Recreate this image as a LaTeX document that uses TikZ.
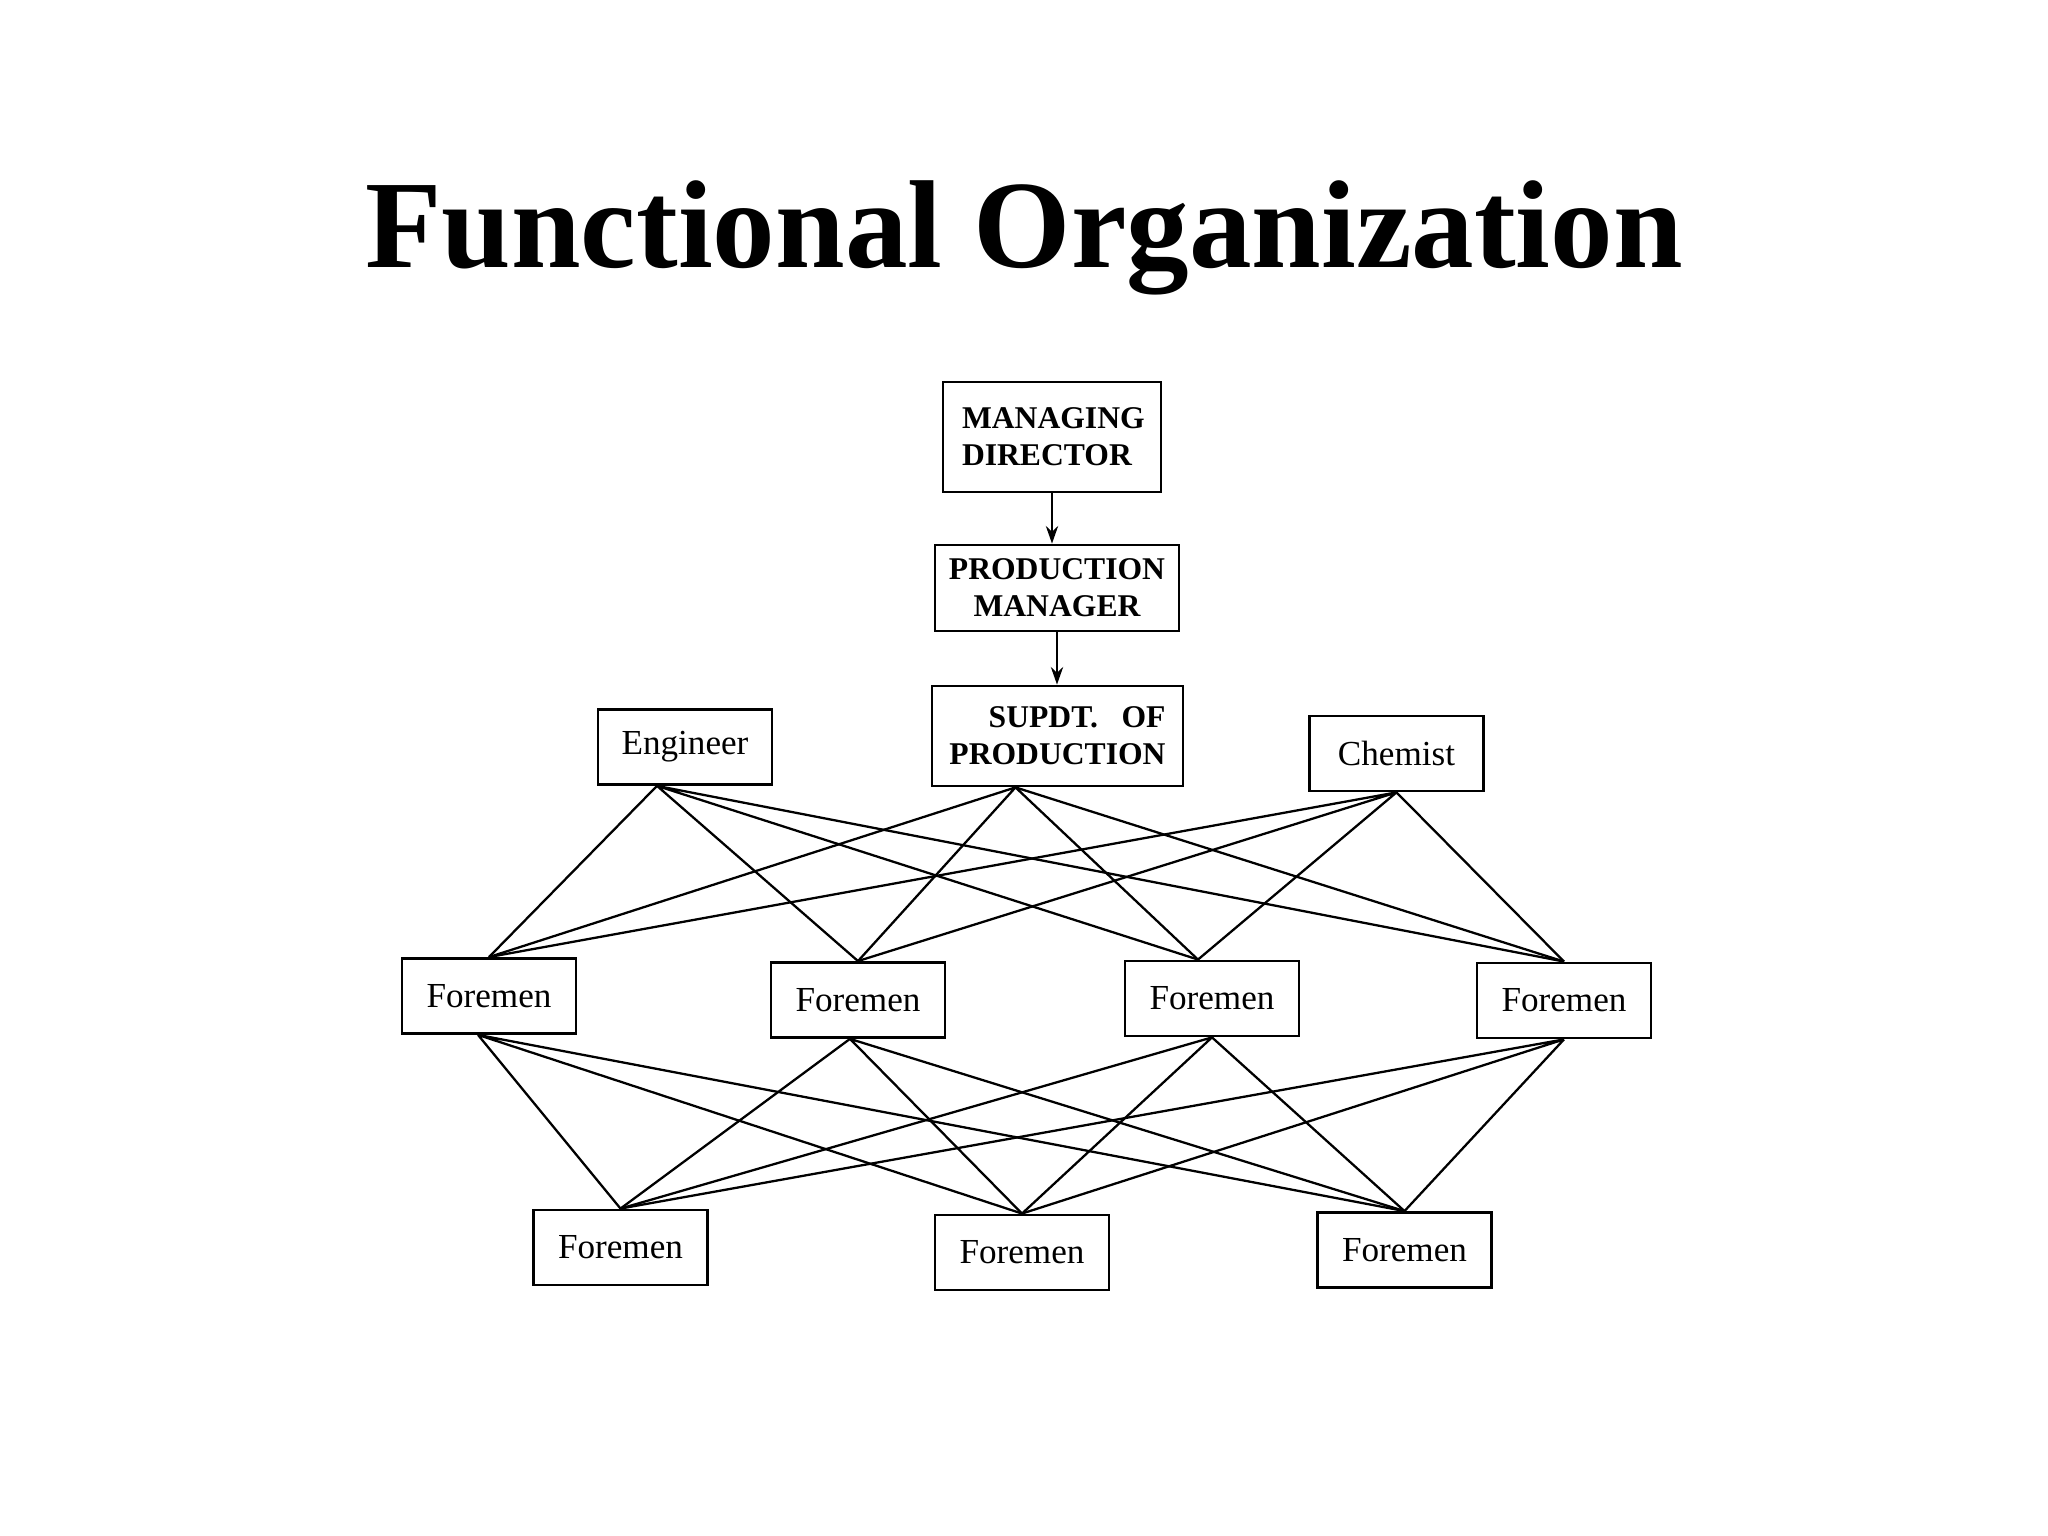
\documentclass[tikz,border=0pt]{standalone}
\usepackage{fontspec}
\setmainfont{Liberation Serif}
\usetikzlibrary{arrows.meta}

\tikzset{
  headbox/.style={draw, line width=0.8pt, inner sep=0pt, font=\fontsize{9}{10.5}\selectfont\bfseries},
  staffbox/.style={draw, line width=0.8pt, inner sep=0pt, minimum width=1.74cm, minimum height=0.75cm, font=\fontsize{10}{12}\selectfont},
  link/.style={line width=0.65pt},
  order/.style={line width=0.6pt, -{Stealth[length=5pt,width=3.5pt]}}
}

\begin{document}
\begin{tikzpicture}

        \useasboundingbox[fill=white] (0,0) rectangle (20.48,15.36);
        \node[font=\fontsize{35.6}{40}\selectfont\bfseries, anchor=base] (title) at (10.24,12.68) {Functional Organization};

        % line of command
        \node[headbox, align=left, minimum width=2.18cm, minimum height=1.10cm, text width=1.80cm] (md) at (10.52,10.99) {MANAGING\\DIRECTOR};
        \node[headbox, align=center, minimum width=2.44cm, minimum height=0.86cm] (pm) at (10.57,9.48) {PRODUCTION\\MANAGER};
        \node[headbox, align=right, minimum width=2.51cm, minimum height=1.00cm] (sup) at (10.575,8.00) {SUPDT.\enspace\ OF\\PRODUCTION};
        \draw[order] (md.south) -- (md.south |- pm.north);
        \draw[order] (pm.south) -- (pm.south |- sup.north);

        % specialists
        \node[staffbox] (eng) at (6.85,7.89) {Engineer};
        \node[staffbox] (chem) at (13.965,7.825) {Chemist};

        % foremen
        \node[staffbox] (fa) at (4.89,5.40) {Foremen};
        \node[staffbox] (fb) at (8.58,5.36) {Foremen};
        \node[staffbox] (fc) at (12.12,5.375) {Foremen};
        \node[staffbox] (fd) at (15.64,5.355) {Foremen};
        \node[staffbox] (ga) at (6.205,2.885) {Foremen};
        \node[staffbox] (gb) at (10.22,2.835) {Foremen};
        \node[staffbox] (gc) at (14.045,2.86) {Foremen};

        % upper web
        \draw[link] ([xshift=-0.28cm]eng.south) -- (fa.north)
                    ([xshift=-0.28cm]eng.south) -- (fb.north)
                    ([xshift=-0.28cm]eng.south) -- ([xshift=-0.14cm]fc.north)
                    ([xshift=-0.28cm]eng.south) -- (fd.north);
        \draw[link] ([xshift=-0.42cm]sup.south) -- (fa.north)
                    ([xshift=-0.42cm]sup.south) -- (fb.north)
                    ([xshift=-0.42cm]sup.south) -- ([xshift=-0.14cm]fc.north)
                    ([xshift=-0.42cm]sup.south) -- (fd.north);
        \draw[link] (chem.south) -- (fa.north)
                    (chem.south) -- (fb.north)
                    (chem.south) -- ([xshift=-0.14cm]fc.north)
                    (chem.south) -- (fd.north);

        % lower web
        \draw[link] ([xshift=-0.11cm]fa.south) -- (ga.north)
                    ([xshift=-0.11cm]fa.south) -- (gb.north)
                    ([xshift=-0.11cm]fa.south) -- (gc.north);
        \draw[link] ([xshift=-0.08cm]fb.south) -- (ga.north)
                    ([xshift=-0.08cm]fb.south) -- (gb.north)
                    ([xshift=-0.08cm]fb.south) -- (gc.north);
        \draw[link] (fc.south) -- (ga.north)
                    (fc.south) -- (gb.north)
                    (fc.south) -- (gc.north);
        \draw[link] (fd.south) -- (ga.north)
                    (fd.south) -- (gb.north)
                    (fd.south) -- (gc.north);

\end{tikzpicture}
\end{document}
